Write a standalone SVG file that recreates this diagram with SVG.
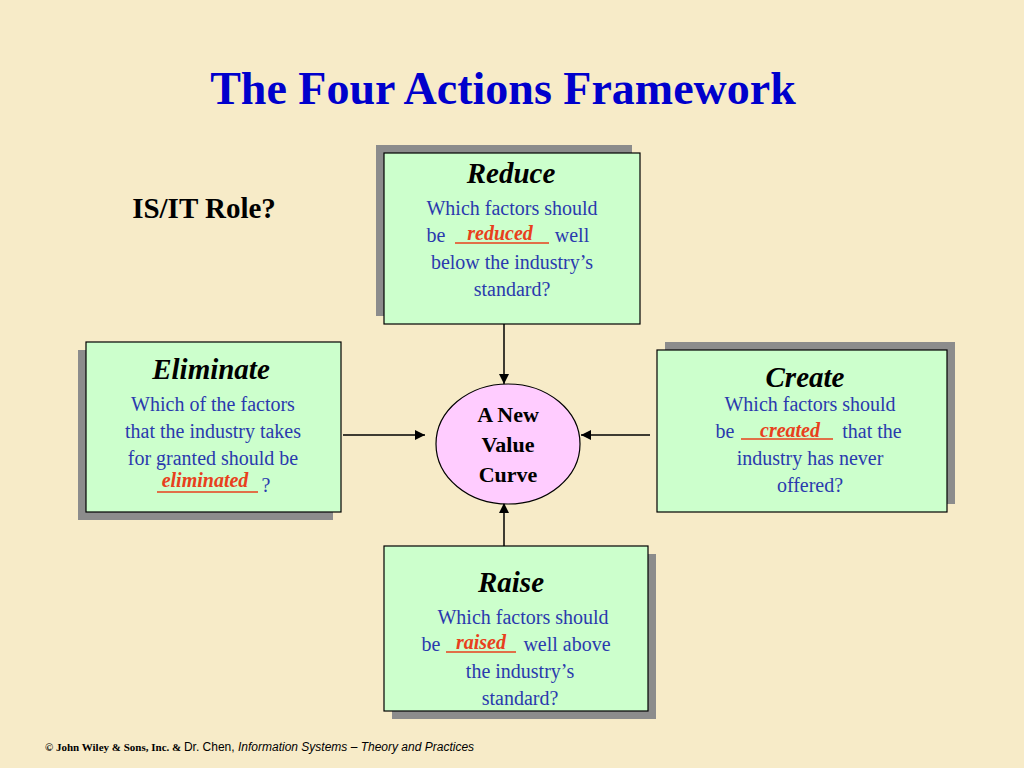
<svg xmlns="http://www.w3.org/2000/svg" width="1024" height="768" viewBox="0 0 1024 768">
<defs>
<marker id="ah" viewBox="0 0 10 10" refX="10" refY="5" markerWidth="10" markerHeight="10" markerUnits="userSpaceOnUse" orient="auto"><path d="M0,0L10,5L0,10z" fill="#000"/></marker>
<style>
.sh{fill:#8c8c8c}
.bx{fill:#ccffcc;stroke:#000;stroke-width:1.2}
.hd{font-family:"Liberation Serif",serif;font-style:italic;font-weight:bold;font-size:29px;fill:#000;text-anchor:middle}
.tx{font-family:"Liberation Serif",serif;font-size:20px;fill:#2a3aae;text-anchor:middle}
.rd{font-family:"Liberation Serif",serif;font-style:italic;font-weight:bold;font-size:20px;fill:#e8401c;text-anchor:middle}
.ul{stroke:#e8401c;stroke-width:1.5}
.cn{stroke:#000;stroke-width:1.5;fill:none;marker-end:url(#ah)}
</style>
</defs>
<rect width="1024" height="768" fill="#f7ebc8"/>
<text x="503" y="104" font-family="Liberation Serif,serif" font-weight="bold" font-size="46" fill="#0000cc" text-anchor="middle">The Four Actions Framework</text>
<text x="204" y="218" font-family="Liberation Serif,serif" font-weight="bold" font-size="29" fill="#000" text-anchor="middle">IS/IT Role?</text>
<g id="connectors">
<line class="cn" x1="504" y1="324" x2="504" y2="384"/>
<line class="cn" x1="504" y1="546" x2="504" y2="503"/>
<line class="cn" x1="343" y1="435" x2="425" y2="435"/>
<line class="cn" x1="650" y1="435" x2="581" y2="435"/>
</g>
<g id="reduce">
<rect class="sh" x="376" y="145" width="256" height="171"/>
<rect class="bx" x="384" y="153" width="256" height="171"/>
<text class="hd" x="511" y="183">Reduce</text>
<text class="tx" x="512" y="215">Which factors should</text>
<text class="tx" x="512" y="242"><tspan x="436">be</tspan><tspan x="572">well</tspan></text>
<text class="rd" x="500" y="240">reduced</text>
<line class="ul" x1="455" y1="243" x2="549" y2="243"/>
<text class="tx" x="512" y="269">below the industry’s</text>
<text class="tx" x="512" y="296">standard?</text>
</g>
<g id="eliminate">
<rect class="sh" x="78" y="350" width="255" height="170"/>
<rect class="bx" x="86" y="342" width="255" height="170"/>
<text class="hd" x="211" y="379">Eliminate</text>
<text class="tx" x="213" y="411">Which of the factors</text>
<text class="tx" x="213" y="438">that the industry takes</text>
<text class="tx" x="213" y="465">for granted should be</text>
<text class="rd" x="205" y="487">eliminated</text>
<line class="ul" x1="157" y1="492" x2="258" y2="492"/>
<text class="tx" x="266" y="492">?</text>
</g>
<g id="create">
<rect class="sh" x="665" y="342" width="290" height="162"/>
<rect class="bx" x="657" y="350" width="290" height="162"/>
<text class="hd" x="805" y="387">Create</text>
<text class="tx" x="810" y="411">Which factors should</text>
<text class="tx" x="810" y="438"><tspan x="725">be</tspan><tspan x="872">that the</tspan></text>
<text class="rd" x="790" y="437">created</text>
<line class="ul" x1="741" y1="439" x2="833" y2="439"/>
<text class="tx" x="810" y="465">industry has never</text>
<text class="tx" x="810" y="492">offered?</text>
</g>
<g id="raise">
<rect class="sh" x="392" y="554" width="264" height="165"/>
<rect class="bx" x="384" y="546" width="264" height="165"/>
<text class="hd" x="511" y="592">Raise</text>
<text class="tx" x="523" y="624">Which factors should</text>
<text class="tx" x="523" y="651"><tspan x="431">be</tspan><tspan x="567">well above</tspan></text>
<text class="rd" x="481" y="649">raised</text>
<line class="ul" x1="446" y1="652" x2="516" y2="652"/>
<text class="tx" x="520" y="678">the industry’s</text>
<text class="tx" x="520" y="705">standard?</text>
</g>
<g id="curve">
<ellipse cx="508" cy="444" rx="72" ry="60" fill="#ffccff" stroke="#000" stroke-width="1.2"/>
<g font-family="Liberation Serif,serif" font-weight="bold" font-size="22" fill="#000" text-anchor="middle">
<text x="508" y="422">A New</text><text x="508" y="452">Value</text><text x="508" y="482">Curve</text>
</g>
</g>
<text x="45" y="751" font-size="11" font-family="Liberation Serif,serif" font-weight="bold">© John Wiley &amp; Sons, Inc. &amp; <tspan font-family="Liberation Sans,sans-serif" font-weight="normal" font-size="12">Dr. Chen, <tspan font-style="italic">Information Systems – Theory and Practices</tspan></tspan></text>
</svg>
